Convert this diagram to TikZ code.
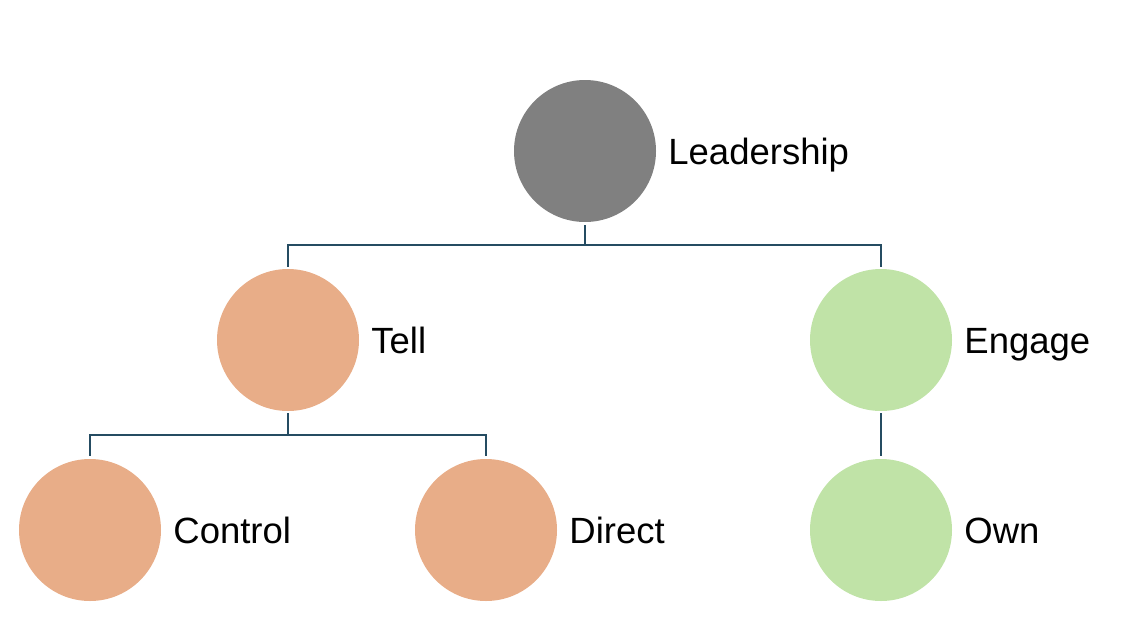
\documentclass[tikz,border=0pt]{standalone}
\usepackage{fontspec}
\setmainfont{Liberation Sans}
\definecolor{lgray}{HTML}{808080}
\definecolor{lorange}{HTML}{E8AD88}
\definecolor{lgreen}{HTML}{C0E3A7}
\definecolor{lline}{HTML}{254C62}
\begin{document}
\begin{tikzpicture}[x=1pt,y=-1pt,
  bub/.style={circle,minimum size=142pt,inner sep=0pt,draw=none},
  lab/.style={anchor=base west,font=\fontsize{36.5}{40}\selectfont,inner sep=0pt},
  conn/.style={draw=lline,line width=2.4pt}]
\useasboundingbox (0,0) rectangle (1138,640);
\node[bub,fill=lgray]   (lead)  at (585,151) {};
\node[bub,fill=lorange] (tell)  at (288,340) {};
\node[bub,fill=lgreen]  (eng)   at (881,340) {};
\node[bub,fill=lorange] (ctrl)  at (90,530) {};
\node[bub,fill=lorange] (dir)   at (486,530) {};
\node[bub,fill=lgreen]  (own)   at (881,530) {};
\node[lab] (tlead) at ([xshift=12pt,yshift=-13pt]lead.east) {Leadership};
\node[lab] (ttell) at ([xshift=12pt,yshift=-13pt]tell.east) {Tell};
\node[lab] (teng)  at ([xshift=12pt,yshift=-13pt]eng.east) {Engage};
\node[lab] (tctrl) at ([xshift=12pt,yshift=-13pt]ctrl.east) {Control};
\node[lab] (tdir)  at ([xshift=12pt,yshift=-13pt]dir.east) {Direct};
\node[lab] (town)  at ([xshift=12pt,yshift=-13pt]own.east) {Own};
\draw[conn] ([yshift=-3pt]lead.south) -- ++(0,20) -| ([yshift=2pt]tell.north);
\draw[conn] ([yshift=-3pt]lead.south) -- ++(0,20) -| ([yshift=2pt]eng.north);
\draw[conn] ([yshift=-2pt]tell.south) -- ++(0,22) -| ([yshift=3pt]ctrl.north);
\draw[conn] ([yshift=-2pt]tell.south) -- ++(0,22) -| ([yshift=3pt]dir.north);
\draw[conn] ([yshift=-2pt]eng.south) -- ([yshift=3pt]own.north);
\end{tikzpicture}
\end{document}
